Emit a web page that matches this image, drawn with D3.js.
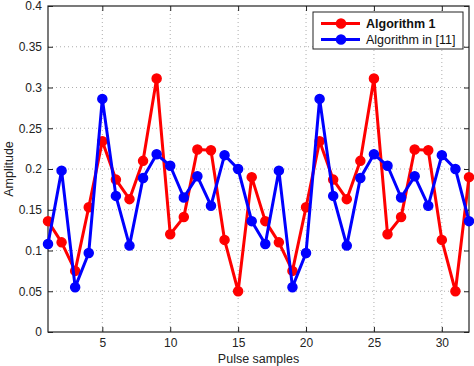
<!DOCTYPE html>
<html>
<head>
<meta charset="utf-8">
<script src="https://cdn.jsdelivr.net/npm/d3@7"></script>
<style>
  body { margin: 0; background: #fff; }
  text { font-family: "Liberation Sans", Arial, sans-serif; }
</style>
</head>
<body>
<div id="chart"></div>
<script>
// pulse sample index 1..32
var samples = d3.range(1, 33);
// Algorithm 1 (red)
var algo1 = [0.136, 0.110, 0.075, 0.153, 0.234, 0.187, 0.163, 0.210,
             0.311, 0.120, 0.141, 0.224, 0.223, 0.113, 0.050, 0.190,
             0.136, 0.110, 0.075, 0.153, 0.234, 0.187, 0.163, 0.210,
             0.311, 0.120, 0.141, 0.224, 0.223, 0.113, 0.050, 0.190];
// Algorithm in [11] (blue)
var algo11 = [0.108, 0.198, 0.055, 0.097, 0.286, 0.167, 0.106, 0.189,
              0.218, 0.204, 0.165, 0.191, 0.155, 0.217, 0.200, 0.136,
              0.108, 0.198, 0.055, 0.097, 0.286, 0.167, 0.106, 0.189,
              0.218, 0.204, 0.165, 0.191, 0.155, 0.217, 0.200, 0.136];
var xTicks = [5, 10, 15, 20, 25, 30];
var yTicks = [0, 0.05, 0.1, 0.15, 0.2, 0.25, 0.3, 0.35, 0.4];
var seriesNames = ["Algorithm 1", "Algorithm in [11]"];
var seriesColors = ["#ff0000", "#0000ff"];

var W = 474, H = 366;
var margin = {top: 6, right: 5, bottom: 34, left: 48};
var width = W - margin.left - margin.right,
    height = H - margin.top - margin.bottom;

var svg = d3.select("#chart").append("svg")
    .attr("width", W).attr("height", H)
    .append("g")
    .attr("transform", "translate(" + margin.left + "," + margin.top + ")");

var x = d3.scaleLinear().domain([1, 32]).range([0, width]);
var y = d3.scaleLinear().domain([0, 0.4]).range([height, 0]);

//grid
svg.append("g").selectAll("line").data(xTicks).enter().append("line")
    .attr("x1", d => x(d)).attr("x2", d => x(d))
    .attr("y1", 0).attr("y2", height)
    .attr("stroke", "#999").attr("stroke-width", 0.8).attr("stroke-dasharray", "1,3");
svg.append("g").selectAll("line").data(yTicks.slice(1, -1)).enter().append("line")
    .attr("x1", 0).attr("x2", width)
    .attr("y1", d => y(d)).attr("y2", d => y(d))
    .attr("stroke", "#999").attr("stroke-width", 0.8).attr("stroke-dasharray", "1,3");

//axes (ticks inward, matlab style)
var fmt = d3.format("");
var xAxis = svg.append("g").attr("transform", "translate(0," + height + ")")
    .call(d3.axisBottom(x).tickValues(xTicks).tickSizeInner(-5).tickSizeOuter(0).tickPadding(6));
var xTop = svg.append("g")
    .call(d3.axisTop(x).tickValues(xTicks).tickSizeInner(-5).tickSizeOuter(0).tickFormat(""));
var yAxis = svg.append("g")
    .call(d3.axisLeft(y).tickValues(yTicks).tickSizeInner(-5).tickSizeOuter(0).tickPadding(6).tickFormat(fmt));
var yRight = svg.append("g").attr("transform", "translate(" + width + ",0)")
    .call(d3.axisRight(y).tickValues(yTicks).tickSizeInner(-5).tickSizeOuter(0).tickFormat(""));
[xAxis, xTop, yAxis, yRight].forEach(function (a) {
    a.select(".domain").remove();
    a.selectAll("line").attr("stroke", "#222");
    a.selectAll("text").attr("font-size", 12).attr("fill", "#222")
        .style("font-family", "'Liberation Sans', Arial, sans-serif");
});

//box
svg.append("rect").attr("width", width).attr("height", height)
    .attr("fill", "none").attr("stroke", "#222").attr("stroke-width", 1.2);

//series
var line = d3.line().x((d, i) => x(samples[i])).y(d => y(d));
[algo1, algo11].forEach(function (data, k) {
    var g = svg.append("g");
    g.append("path").datum(data)
        .attr("d", line)
        .attr("fill", "none")
        .attr("stroke", seriesColors[k])
        .attr("stroke-width", 3)
        .attr("stroke-linejoin", "round");
    g.selectAll("circle").data(data).enter().append("circle")
        .attr("cx", (d, i) => x(samples[i]))
        .attr("cy", d => y(d))
        .attr("r", 4.5)
        .attr("fill", seriesColors[k])
        .attr("stroke", seriesColors[k])
        .attr("stroke-width", 1.5);
});

//labels
svg.append("text")
    .attr("x", width / 2).attr("y", height + 31)
    .attr("text-anchor", "middle").attr("font-size", 12.5).attr("fill", "#222")
    .text("Pulse samples");
svg.append("text")
    .attr("transform", "translate(" + (-35) + "," + (height / 2) + ") rotate(-90)")
    .attr("text-anchor", "middle").attr("font-size", 12.5).attr("fill", "#222")
    .text("Amplitude");

//legend
var lx = 313 - margin.left, ly = 12 - margin.top;
var legend = svg.append("g").attr("transform", "translate(" + lx + "," + ly + ")");
legend.append("rect").attr("width", 150).attr("height", 37)
    .attr("fill", "#fff").attr("stroke", "#222").attr("stroke-width", 1);
seriesNames.forEach(function (name, k) {
    var ry = 11.5 + k * 16;
    legend.append("line").attr("x1", 8).attr("x2", 47).attr("y1", ry).attr("y2", ry)
        .attr("stroke", seriesColors[k]).attr("stroke-width", 3);
    legend.append("circle").attr("cx", 28).attr("cy", ry).attr("r", 4.5)
        .attr("fill", seriesColors[k]).attr("stroke", seriesColors[k]).attr("stroke-width", 1.5);
    legend.append("text").attr("x", 53).attr("y", ry + 4.5)
        .attr("font-size", 12.5).attr("fill", "#111")
        .attr("font-weight", k === 0 ? "bold" : "normal")
        .text(name);
});
</script>
</body>
</html>
